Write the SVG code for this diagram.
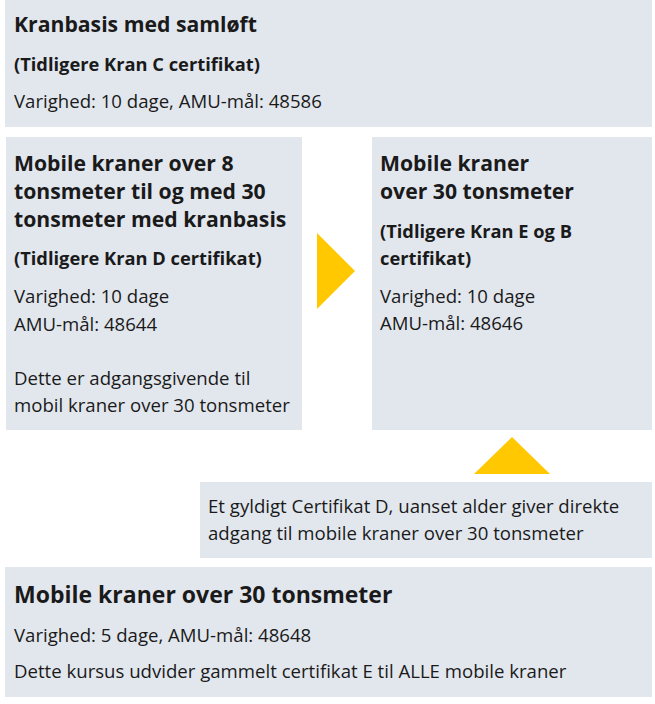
<svg xmlns="http://www.w3.org/2000/svg" width="655" height="704" viewBox="0 0 655 704">
<style>
.box{fill:#e2e7ee}
.arrow{fill:#ffc800}
text{font-family:"Open Sans","Noto Sans","DejaVu Sans",sans-serif;fill:#1a1a1a}
.t{font-size:21.2px;font-weight:700}
.tl{font-size:23px;font-weight:700}
.s{font-size:18.3px;font-weight:700}
.b{font-size:18.6px;font-weight:400}
</style>
<rect width="655" height="704" fill="#ffffff"/>
<g id="node-kranbasis">
<rect class="box" x="5" y="0" width="647" height="127"/>
<text class="t" x="14" y="32">Kranbasis med samløft</text>
<text class="s" x="14" y="71">(Tidligere Kran C certifikat)</text>
<text class="b" x="14" y="108">Varighed: 10 dage, AMU-mål: 48586</text>
</g>
<g id="node-kran-d">
<rect class="box" x="6" y="137" width="296" height="293"/>
<text class="t" x="14" y="171">Mobile kraner over 8</text>
<text class="t" x="14" y="199">tonsmeter til og med 30</text>
<text class="t" x="14" y="227">tonsmeter med kranbasis</text>
<text class="s" x="14" y="265">(Tidligere Kran D certifikat)</text>
<text class="b" x="14" y="303">Varighed: 10 dage</text>
<text class="b" x="14" y="331">AMU-mål: 48644</text>
<text class="b" x="14" y="385">Dette er adgangsgivende til</text>
<text class="b" x="14" y="412">mobil kraner over 30 tonsmeter</text>
</g>
<g id="node-kran-e">
<rect class="box" x="372" y="137" width="280" height="293"/>
<text class="t" x="380" y="171">Mobile kraner</text>
<text class="t" x="380" y="199">over 30 tonsmeter</text>
<text class="s" x="380" y="238">(Tidligere Kran E og B</text>
<text class="s" x="380" y="265">certifikat)</text>
<text class="b" x="380" y="303">Varighed: 10 dage</text>
<text class="b" x="380" y="330">AMU-mål: 48646</text>
</g>
<g id="node-note">
<rect class="box" x="200" y="482" width="452" height="76"/>
<text class="b" x="208" y="513">Et gyldigt Certifikat D, uanset alder giver direkte</text>
<text class="b" x="208" y="540">adgang til mobile kraner over 30 tonsmeter</text>
</g>
<g id="node-alle">
<rect class="box" x="5" y="567" width="647" height="130"/>
<text class="tl" x="14" y="603">Mobile kraner over 30 tonsmeter</text>
<text class="b" x="14" y="642">Varighed: 5 dage, AMU-mål: 48648</text>
<text class="b" x="14" y="678">Dette kursus udvider gammelt certifikat E til ALLE mobile kraner</text>
</g>
<g id="connectors">
<polygon class="arrow" points="317,233 355,271 317,309"/>
<polygon class="arrow" points="474,474 512,437 550,474"/>
</g>
</svg>
